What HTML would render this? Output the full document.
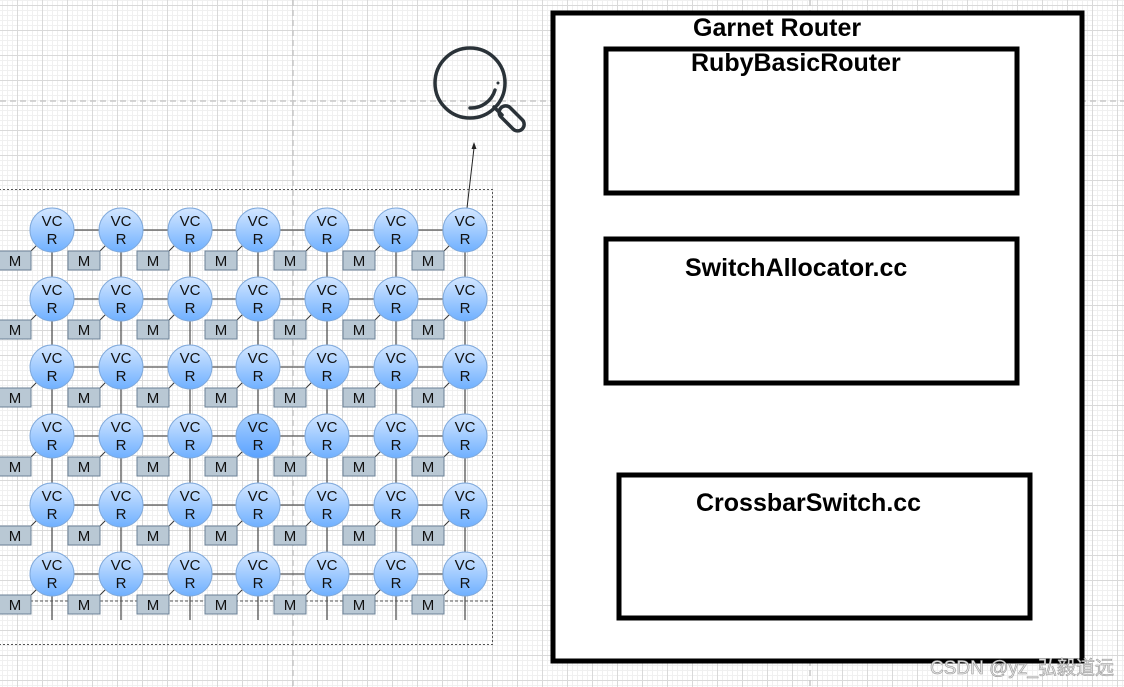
<!DOCTYPE html>
<html><head><meta charset="utf-8"><style>
html,body{margin:0;padding:0}
body{width:1124px;height:687px;overflow:hidden;position:relative;background-color:#fff;
background-image:linear-gradient(#d9d9d9 1px,transparent 1px),linear-gradient(90deg,#d9d9d9 1px,transparent 1px),linear-gradient(#f0f0f0 1px,transparent 1px),linear-gradient(90deg,#f0f0f0 1px,transparent 1px);
background-size:25px 25px,25px 25px,5px 5px,5px 5px;background-position:0 5px,17px 0,0 0,2px 0;}
svg{position:absolute;left:0;top:0}
.v{font:15px "Liberation Sans",sans-serif;fill:#111;text-anchor:middle}
.b{font:bold 25px "Liberation Sans",sans-serif;fill:#000}
</style></head><body>
<svg width="1124" height="687" viewBox="0 0 1124 687">
<defs>
<linearGradient id="g" x1="0" y1="0" x2="0" y2="1"><stop offset="0" stop-color="#d4e7ff"/><stop offset="1" stop-color="#6fb0ff"/></linearGradient>
<linearGradient id="g2" x1="0" y1="0" x2="0" y2="1"><stop offset="0" stop-color="#a8d0ff"/><stop offset="1" stop-color="#5aa2ff"/></linearGradient>
<g id="n"><line x1="-21" y1="21" x2="-15" y2="15" stroke="#333" stroke-width="1"/><rect x="-53" y="21" width="32" height="19" fill="#b9c8d4" stroke="#6b8196"/><circle r="22" fill="url(#g)" stroke="#7fa9dc"/></g>
<g id="n2"><line x1="-21" y1="21" x2="-15" y2="15" stroke="#333" stroke-width="1"/><rect x="-53" y="21" width="32" height="19" fill="#b9c8d4" stroke="#6b8196"/><circle r="22" fill="url(#g2)" stroke="#7fa9dc"/></g>
</defs>
<line x1="0" y1="101" x2="1124" y2="101" stroke="#c8c8c8" stroke-dasharray="6,4" stroke-width="1.5"/>
<line x1="293" y1="0" x2="293" y2="687" stroke="#c8c8c8" stroke-dasharray="6,4" stroke-width="1.5"/>
<line x1="810" y1="0" x2="810" y2="687" stroke="#c8c8c8" stroke-dasharray="6,4" stroke-width="1.5"/>
<line x1="0" y1="601" x2="493" y2="601" stroke="#555" stroke-dasharray="3,2"/>
<rect x="-1" y="189.5" width="493.5" height="455" fill="none" stroke="#555" stroke-dasharray="2,2"/>
<g stroke="#555" stroke-width="1.3">
<line x1="52" y1="230" x2="465" y2="230"/><line x1="52" y1="299" x2="465" y2="299"/><line x1="52" y1="367" x2="465" y2="367"/><line x1="52" y1="436" x2="465" y2="436"/><line x1="52" y1="505" x2="465" y2="505"/><line x1="52" y1="574" x2="465" y2="574"/>
<line x1="52" y1="230" x2="52" y2="620"/><line x1="121" y1="230" x2="121" y2="620"/><line x1="190" y1="230" x2="190" y2="620"/><line x1="258" y1="230" x2="258" y2="620"/><line x1="327" y1="230" x2="327" y2="620"/><line x1="396" y1="230" x2="396" y2="620"/><line x1="465" y1="230" x2="465" y2="620"/>
</g>
<line x1="467" y1="208" x2="474" y2="148" stroke="#222"/><polygon points="474,142 471.5,149 476.5,149" fill="#222"/>
<g fill="none" stroke="#2a3238" stroke-width="3.5" stroke-linecap="round">
<circle cx="470" cy="83" r="35"/><path d="M470 108 A25 25 0 0 0 495 90"/>
<rect x="497" y="112" width="30" height="13" rx="6.5" transform="rotate(45 512 118)"/>
<line x1="494" y1="107" x2="502" y2="115"/></g>
<circle cx="498" cy="83" r="1.5" fill="#2a3238"/>

<g id="rows">
<use href="#n" x="52" y="230"/><use href="#n" x="121" y="230"/><use href="#n" x="190" y="230"/><use href="#n" x="258" y="230"/><use href="#n" x="327" y="230"/><use href="#n" x="396" y="230"/><use href="#n" x="465" y="230"/>
<use href="#n" x="52" y="299"/><use href="#n" x="121" y="299"/><use href="#n" x="190" y="299"/><use href="#n" x="258" y="299"/><use href="#n" x="327" y="299"/><use href="#n" x="396" y="299"/><use href="#n" x="465" y="299"/>
<use href="#n" x="52" y="367"/><use href="#n" x="121" y="367"/><use href="#n" x="190" y="367"/><use href="#n" x="258" y="367"/><use href="#n" x="327" y="367"/><use href="#n" x="396" y="367"/><use href="#n" x="465" y="367"/>
<use href="#n" x="52" y="436"/><use href="#n" x="121" y="436"/><use href="#n" x="190" y="436"/><use href="#n2" x="258" y="436"/><use href="#n" x="327" y="436"/><use href="#n" x="396" y="436"/><use href="#n" x="465" y="436"/>
<use href="#n" x="52" y="505"/><use href="#n" x="121" y="505"/><use href="#n" x="190" y="505"/><use href="#n" x="258" y="505"/><use href="#n" x="327" y="505"/><use href="#n" x="396" y="505"/><use href="#n" x="465" y="505"/>
<use href="#n" x="52" y="574"/><use href="#n" x="121" y="574"/><use href="#n" x="190" y="574"/><use href="#n" x="258" y="574"/><use href="#n" x="327" y="574"/><use href="#n" x="396" y="574"/><use href="#n" x="465" y="574"/>
</g>
<g class="v">
<text x="52" y="226" class="v">VC</text><text x="121" y="226" class="v">VC</text><text x="190" y="226" class="v">VC</text><text x="258" y="226" class="v">VC</text><text x="327" y="226" class="v">VC</text><text x="396" y="226" class="v">VC</text><text x="465" y="226" class="v">VC</text>
<text x="52" y="244" class="v">R</text><text x="121" y="244" class="v">R</text><text x="190" y="244" class="v">R</text><text x="258" y="244" class="v">R</text><text x="327" y="244" class="v">R</text><text x="396" y="244" class="v">R</text><text x="465" y="244" class="v">R</text>
<text x="15" y="266" class="v">M</text><text x="84" y="266" class="v">M</text><text x="153" y="266" class="v">M</text><text x="221" y="266" class="v">M</text><text x="290" y="266" class="v">M</text><text x="359" y="266" class="v">M</text><text x="428" y="266" class="v">M</text>

<text x="52" y="295" class="v">VC</text><text x="121" y="295" class="v">VC</text><text x="190" y="295" class="v">VC</text><text x="258" y="295" class="v">VC</text><text x="327" y="295" class="v">VC</text><text x="396" y="295" class="v">VC</text><text x="465" y="295" class="v">VC</text>
<text x="52" y="313" class="v">R</text><text x="121" y="313" class="v">R</text><text x="190" y="313" class="v">R</text><text x="258" y="313" class="v">R</text><text x="327" y="313" class="v">R</text><text x="396" y="313" class="v">R</text><text x="465" y="313" class="v">R</text>
<text x="15" y="335" class="v">M</text><text x="84" y="335" class="v">M</text><text x="153" y="335" class="v">M</text><text x="221" y="335" class="v">M</text><text x="290" y="335" class="v">M</text><text x="359" y="335" class="v">M</text><text x="428" y="335" class="v">M</text>

<text x="52" y="363" class="v">VC</text><text x="121" y="363" class="v">VC</text><text x="190" y="363" class="v">VC</text><text x="258" y="363" class="v">VC</text><text x="327" y="363" class="v">VC</text><text x="396" y="363" class="v">VC</text><text x="465" y="363" class="v">VC</text>
<text x="52" y="381" class="v">R</text><text x="121" y="381" class="v">R</text><text x="190" y="381" class="v">R</text><text x="258" y="381" class="v">R</text><text x="327" y="381" class="v">R</text><text x="396" y="381" class="v">R</text><text x="465" y="381" class="v">R</text>
<text x="15" y="403" class="v">M</text><text x="84" y="403" class="v">M</text><text x="153" y="403" class="v">M</text><text x="221" y="403" class="v">M</text><text x="290" y="403" class="v">M</text><text x="359" y="403" class="v">M</text><text x="428" y="403" class="v">M</text>

<text x="52" y="432" class="v">VC</text><text x="121" y="432" class="v">VC</text><text x="190" y="432" class="v">VC</text><text x="258" y="432" class="v">VC</text><text x="327" y="432" class="v">VC</text><text x="396" y="432" class="v">VC</text><text x="465" y="432" class="v">VC</text>
<text x="52" y="450" class="v">R</text><text x="121" y="450" class="v">R</text><text x="190" y="450" class="v">R</text><text x="258" y="450" class="v">R</text><text x="327" y="450" class="v">R</text><text x="396" y="450" class="v">R</text><text x="465" y="450" class="v">R</text>
<text x="15" y="472" class="v">M</text><text x="84" y="472" class="v">M</text><text x="153" y="472" class="v">M</text><text x="221" y="472" class="v">M</text><text x="290" y="472" class="v">M</text><text x="359" y="472" class="v">M</text><text x="428" y="472" class="v">M</text>

<text x="52" y="501" class="v">VC</text><text x="121" y="501" class="v">VC</text><text x="190" y="501" class="v">VC</text><text x="258" y="501" class="v">VC</text><text x="327" y="501" class="v">VC</text><text x="396" y="501" class="v">VC</text><text x="465" y="501" class="v">VC</text>
<text x="52" y="519" class="v">R</text><text x="121" y="519" class="v">R</text><text x="190" y="519" class="v">R</text><text x="258" y="519" class="v">R</text><text x="327" y="519" class="v">R</text><text x="396" y="519" class="v">R</text><text x="465" y="519" class="v">R</text>
<text x="15" y="541" class="v">M</text><text x="84" y="541" class="v">M</text><text x="153" y="541" class="v">M</text><text x="221" y="541" class="v">M</text><text x="290" y="541" class="v">M</text><text x="359" y="541" class="v">M</text><text x="428" y="541" class="v">M</text>

<text x="52" y="570" class="v">VC</text><text x="121" y="570" class="v">VC</text><text x="190" y="570" class="v">VC</text><text x="258" y="570" class="v">VC</text><text x="327" y="570" class="v">VC</text><text x="396" y="570" class="v">VC</text><text x="465" y="570" class="v">VC</text>
<text x="52" y="588" class="v">R</text><text x="121" y="588" class="v">R</text><text x="190" y="588" class="v">R</text><text x="258" y="588" class="v">R</text><text x="327" y="588" class="v">R</text><text x="396" y="588" class="v">R</text><text x="465" y="588" class="v">R</text>
<text x="15" y="610" class="v">M</text><text x="84" y="610" class="v">M</text><text x="153" y="610" class="v">M</text><text x="221" y="610" class="v">M</text><text x="290" y="610" class="v">M</text><text x="359" y="610" class="v">M</text><text x="428" y="610" class="v">M</text>
</g>

<rect x="553" y="13" width="529" height="648" fill="#fff" stroke="#000" stroke-width="5"/>
<rect x="606" y="49" width="411" height="144" fill="#fff" stroke="#000" stroke-width="5"/>
<rect x="606" y="239" width="411" height="144" fill="#fff" stroke="#000" stroke-width="5"/>
<rect x="619" y="475" width="411" height="143" fill="#fff" stroke="#000" stroke-width="5"/>
<text x="693" y="36" class="b">Garnet Router</text>
<text x="691" y="71" class="b">RubyBasicRouter</text>
<text x="685" y="276" class="b">SwitchAllocator.cc</text>
<text x="696" y="511" class="b">CrossbarSwitch.cc</text>
<text x="930" y="674" style="font:19px 'Liberation Sans','Noto Sans CJK SC',sans-serif;fill:#e6e6e6;stroke:#9a9a9a;stroke-width:0.6">CSDN @yz_弘毅道远</text>
</svg>
</body></html>
